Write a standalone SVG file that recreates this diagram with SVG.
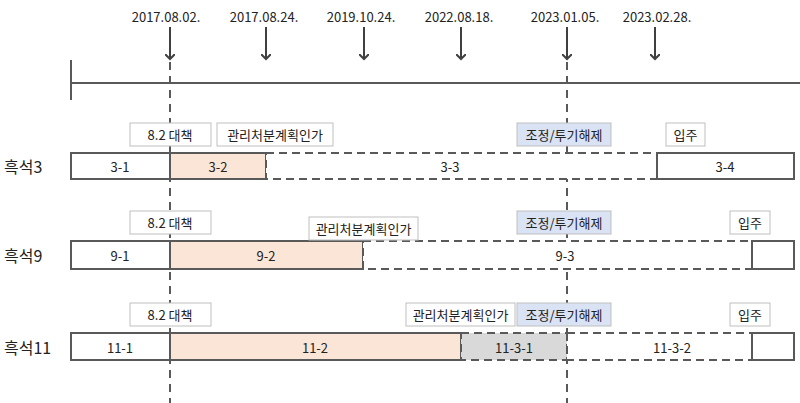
<svg xmlns="http://www.w3.org/2000/svg" width="800" height="403" viewBox="0 0 800 403">
<style>
text{font-family:"Noto Sans CJK KR","Noto Sans",sans-serif;font-size:13px;fill:#222;text-anchor:middle;dominant-baseline:central}
.row{font-size:16px;text-anchor:start}
.bx{stroke:#595959;stroke-width:2}
.dsh{fill:#fff;stroke:#595959;stroke-width:2;stroke-dasharray:8,5}
.lb{fill:#fff;stroke:#bfbfbf;stroke-width:1}
.bl{fill:#dae3f3;stroke:#bfbfbf;stroke-width:1}
.vl{stroke:#595959;stroke-width:2;stroke-dasharray:8,6}
.ar{stroke:#404040;stroke-width:2;marker-end:url(#a)}
</style>
<defs><marker id="a" markerWidth="10" markerHeight="10" refX="5" refY="5" orient="auto" markerUnits="userSpaceOnUse"><path d="M0,0 L5,5 L0,10" fill="none" stroke="#404040" stroke-width="2"/></marker></defs>
<rect width="800" height="403" fill="#fff"/>
<g id="connectors">
<line x1="71" y1="60" x2="71" y2="100" stroke="#595959" stroke-width="2"/>
<line x1="71" y1="83" x2="800" y2="83" stroke="#595959" stroke-width="2"/>
<line class="vl" x1="170" y1="62" x2="170" y2="403"/>
<line class="vl" x1="567" y1="62" x2="567" y2="403"/>
<g class="ar"><line x1="170" y1="27" x2="170" y2="59"/><line x1="266" y1="27" x2="266" y2="59"/><line x1="364" y1="27" x2="364" y2="59"/><line x1="461" y1="27" x2="461" y2="59"/><line x1="567" y1="27" x2="567" y2="59"/><line x1="655" y1="27" x2="655" y2="59"/></g>
</g>
<g id="dates">
<text x="166" y="16">2017.08.02.</text><text x="264" y="16">2017.08.24.</text><text x="361" y="16">2019.10.24.</text><text x="459" y="16">2022.08.18.</text><text x="565" y="16">2023.01.05.</text><text x="657" y="16">2023.02.28.</text>
</g>
<g id="row3">
<text class="row" x="4" y="166">흑석3</text>
<rect class="bx" x="71" y="153" width="99" height="26" fill="#fff"/>
<rect class="bx" x="170" y="153" width="96" height="26" fill="#fbe5d6"/>
<rect class="dsh" x="266" y="153" width="391" height="26"/>
<rect class="bx" x="657" y="153" width="137" height="26" fill="#fff"/>
<text x="120" y="166">3-1</text><text x="218" y="166">3-2</text><text x="450" y="166">3-3</text><text x="725" y="166">3-4</text>
<rect class="lb" x="130" y="123" width="81" height="23"/><text x="170" y="134.5">8.2 대책</text>
<rect class="lb" x="217" y="123" width="116" height="23"/><text x="275" y="134.5">관리처분계획인가</text>
<rect class="bl" x="517" y="123" width="94" height="23"/><text x="564" y="134.5">조정/투기해제</text>
<rect class="lb" x="666" y="123" width="39" height="23"/><text x="685.5" y="134.5">입주</text>
</g>
<g id="row9">
<text class="row" x="4" y="255">흑석9</text>
<rect class="bx" x="71" y="241" width="99" height="28" fill="#fff"/>
<rect class="bx" x="170" y="241" width="193" height="28" fill="#fbe5d6"/>
<rect class="dsh" x="363" y="241" width="389" height="28"/>
<rect class="bx" x="752" y="241" width="42" height="28" fill="#fff"/>
<text x="120" y="255">9-1</text><text x="266" y="255">9-2</text><text x="565" y="255">9-3</text>
<rect class="lb" x="130" y="211" width="81" height="23"/><text x="170" y="222.5">8.2 대책</text>
<rect class="lb" x="309" y="217" width="109" height="23"/><text x="363.5" y="228.5">관리처분계획인가</text>
<rect class="bl" x="517" y="211" width="94" height="23"/><text x="564" y="222.5">조정/투기해제</text>
<rect class="lb" x="730" y="211" width="40" height="23"/><text x="750" y="222.5">입주</text>
</g>
<g id="row11">
<text class="row" x="4" y="347">흑석11</text>
<rect class="bx" x="71" y="333" width="99" height="27" fill="#fff"/>
<rect class="bx" x="170" y="333" width="291" height="27" fill="#fbe5d6"/>
<rect class="dsh" x="461" y="333" width="106" height="27" style="fill:#d9d9d9"/>
<rect class="dsh" x="567" y="333" width="185" height="27"/>
<rect class="bx" x="752" y="333" width="42" height="27" fill="#fff"/>
<text x="120" y="347">11-1</text><text x="315" y="347">11-2</text><text x="514" y="347">11-3-1</text><text x="672" y="347">11-3-2</text>
<rect class="lb" x="130" y="303" width="81" height="23"/><text x="170" y="314.5">8.2 대책</text>
<rect class="lb" x="406" y="303" width="109" height="23"/><text x="460.5" y="314.5">관리처분계획인가</text>
<rect class="bl" x="517" y="303" width="94" height="23"/><text x="564" y="314.5">조정/투기해제</text>
<rect class="lb" x="730" y="303" width="40" height="23"/><text x="750" y="314.5">입주</text>
</g>
</svg>
